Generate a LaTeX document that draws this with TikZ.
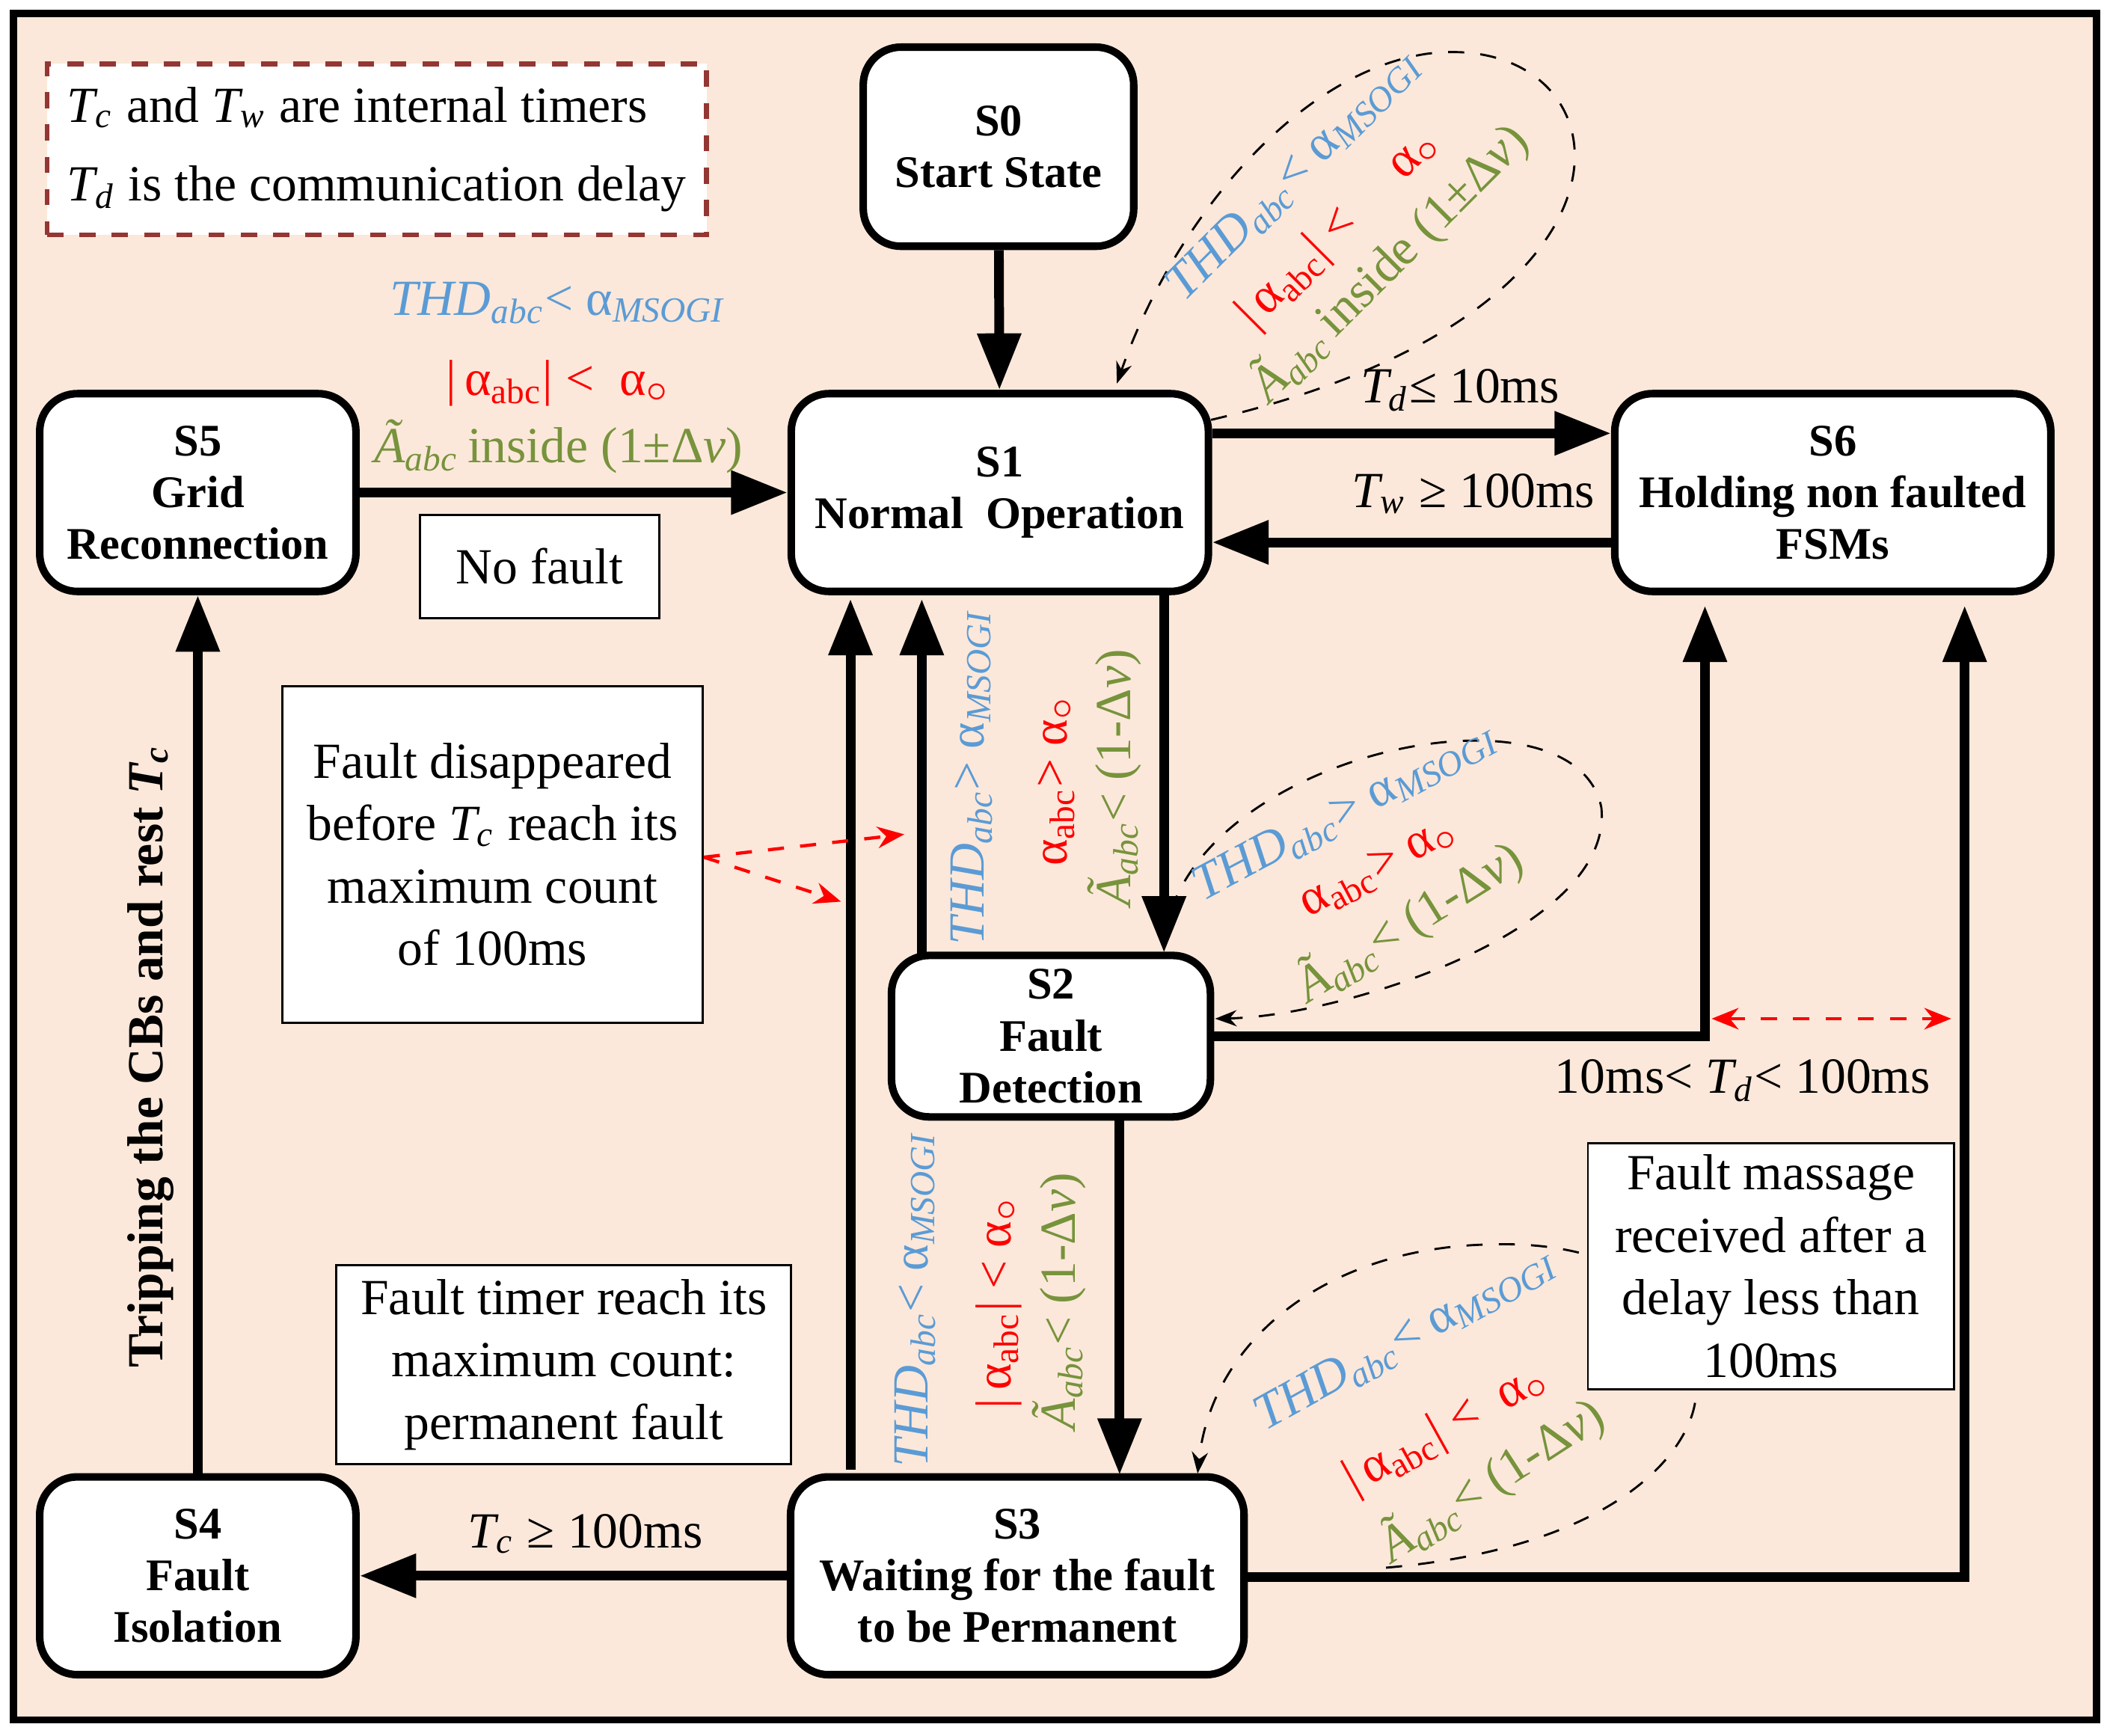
\documentclass[tikz,border=0pt]{standalone}
\usepackage{fontspec}
\setmainfont{Liberation Serif}
\usetikzlibrary{arrows.meta}
\definecolor{bg}{HTML}{FBE8DA}
\definecolor{cb}{HTML}{5B9BD5}
\definecolor{cg}{HTML}{77933C}
\definecolor{cr}{HTML}{FF0000}
\definecolor{lb}{HTML}{943634}
\newcommand{\ao}{α$_\circ$}
\newcommand{\ab}{α\textsubscript{abc}}
\newcommand{\thd}{\textit{THD}\textsubscript{\textit{abc}}}
\newcommand{\ams}{α\textsubscript{\textit{MSOGI}}}
\newcommand{\Aab}{\textit{Ã}\textsubscript{\textit{abc}}}
\begin{document}
\begin{tikzpicture}[x=0.25pt,y=-0.25pt,
 st/.style={draw,line width=1.4pt,rounded corners=7pt,fill=white,align=center,font=\fontsize{8.4}{9.6}\selectfont\bfseries,inner sep=0pt},
 bx/.style={draw,line width=0.4pt,fill=white,align=center,font=\fontsize{9.4}{11.6}\selectfont,inner sep=0pt},
 ar/.style={line width=1.8pt,-{Triangle[length=10.5pt,width=7.8pt]}},
 rd/.style={cr,dashed,line width=0.6pt,-{Stealth[length=5pt,width=4pt]}},
 lp/.style={dashed,line width=0.4pt,-{Stealth[length=4pt,width=3pt]}},
 t/.style={font=\fontsize{9.4}{11}\selectfont,inner sep=0pt}]
\useasboundingbox (0,0) rectangle (1568,1290);
\draw[line width=1.3pt,fill=bg] (10,10) rectangle (1558,1278);
% legend
\node[draw=lb,dashed,line width=0.9pt,fill=white,minimum width=490*0.25pt,minimum height=127*0.25pt,align=left,font=\fontsize{9.4}{14.5}\selectfont,inner sep=0pt] (leg) at (280,111) {\textit{T\textsubscript{c}} and \textit{T\textsubscript{w}} are internal timers\\\textit{T\textsubscript{d}} is the communication delay};
% loops behind
\draw[lp] (900,312) .. controls (1250,230) and (1210,20) .. (1060,40) .. controls (960,55) and (870,170) .. (830,285);
\draw[lp] (865,700) .. controls (880,560) and (1170,500) .. (1190,600) .. controls (1200,690) and (1000,755) .. (903,757);
\draw[lp] (1030,1165) .. controls (1200,1150) and (1255,1080) .. (1260,1040) .. controls (1265,960) and (1200,920) .. (1100,925) .. controls (980,930) and (900,1000) .. (890,1095);
% states
\node[st,minimum width=201*0.25pt,minimum height=148*0.25pt] (S0) at (742,109) {S0\\Start State};
\node[st,minimum width=310*0.25pt,minimum height=147*0.25pt] (S1) at (743,366) {S1\\Normal\ \ Operation};
\node[st,minimum width=235*0.25pt,minimum height=147*0.25pt] (S5) at (147,366) {S5\\Grid\\Reconnection};
\node[st,minimum width=324*0.25pt,minimum height=147*0.25pt] (S6) at (1362,366) {S6\\Holding non faulted\\FSMs};
\node[st,minimum width=237*0.25pt,minimum height=120*0.25pt] (S2) at (781,770) {S2\\Fault\\Detection};
\node[st,minimum width=337*0.25pt,minimum height=147*0.25pt] (S3) at (756,1171) {S3\\Waiting for the fault\\to be Permanent};
\node[st,minimum width=235*0.25pt,minimum height=147*0.25pt] (S4) at (147,1171) {S4\\Fault\\Isolation};
% boxes
\node[bx,minimum width=178*0.25pt,minimum height=77*0.25pt] (nf) at (401,421) {No fault};
\node[bx,minimum width=312*0.25pt,minimum height=250*0.25pt] (fd) at (366,635) {Fault disappeared\\before \textit{T\textsubscript{c}} reach its\\maximum count\\of 100ms};
\node[bx,minimum width=338*0.25pt,minimum height=148*0.25pt] (ft) at (419,1014) {Fault timer reach its\\maximum count:\\permanent fault};
\node[bx,minimum width=272*0.25pt,minimum height=183*0.25pt] (fm) at (1316,941) {Fault massage\\received after a\\delay less than\\100ms};
% arrows
\draw[ar] (S0) -- (S1);
\draw[ar] (S5.east) -- (S1.west);
\draw[ar] (S1.east|-0,322) -- (S6.west|-0,322);
\draw[ar] (S6.west|-0,403) -- (S1.east|-0,403);
\draw[ar] (865,440) -- (865,708);
\draw[ar] (685,710) -- (685,445);
\draw[ar] (632,1092) -- (632,445);
\draw[ar] (832,830) -- (832,1096);
\draw[ar] (S2.east|-0,770) -- (1267,770) -- (1267,450);
\draw[ar] (S3.east|-0,1172) -- (1460,1172) -- (1460,450);
\draw[ar] (S3.west) -- (S4.east);
\draw[ar] (S4.north) -- (S5.south);
% red dashed
\coordinate (fdr) at (523,637);
\draw[rd] (fdr) -- (672,620);
\draw[rd] (fdr) -- (625,670);
\coordinate (d1) at (1272,757); \coordinate (d2) at (1450,757);
\draw[rd,{Stealth[length=5pt,width=4pt]}-{Stealth[length=5pt,width=4pt]}] (d1) -- (d2);
% labels
\node[t] at (1085,290) {\textit{T\textsubscript{d}}≤ 10ms};
\node[t] at (1095,367) {\textit{T\textsubscript{w}} ≥ 100ms};
\node[t] at (435,1140) {\textit{T\textsubscript{c}} ≥ 100ms};
\node[t] at (1295,803) {10ms< \textit{T\textsubscript{d}}< 100ms};
\node[t,rotate=90,font=\fontsize{9.4}{11}\selectfont\bfseries] at (112,785) {Tripping the CBs and rest \textit{T\textsubscript{c}}};
% S5-S1 conditions
\node[t,cb] at (415,225) {\thd< \ams};
\node[t,cr] at (415,285) {|\,\ab| <\ \ \ao};
\node[t,cg] at (415,332) {\Aab\,inside (1±Δ\textit{v})};
% vertical S2-S1
\node[t,cb,rotate=90] at (722,577) {\thd> \ams};
\node[t,cr,rotate=90] at (785,580) {\ab> \ao};
\node[t,cg,rotate=90] at (828,578) {\Aab< (1-Δ\textit{v})};
% vertical S3-S1
\node[t,cb,rotate=90] at (680,965) {\thd< \ams};
\node[t,cr,rotate=90] at (742,968) {|\,\ab| <\ \ao};
\node[t,cg,rotate=90] at (787,967) {\Aab< (1-Δ\textit{v})};
% S1 loop
\node[t,cb,rotate=45] at (962,130) {\thd< \ams};
\node[t,cr,rotate=45] at (995,170) {|\,\ab| <\ \ \ \ \ \ao};
\node[t,cg,rotate=45] at (1032,195) {\Aab\,inside (1±Δ\textit{v})};
% S2 loop
\node[t,cb,rotate=28] at (1000,603) {\thd> \ams};
\node[t,cr,rotate=28] at (1025,645) {\ab> \ao};
\node[t,cg,rotate=32] at (1047,685) {\Aab< (1-Δ\textit{v})};
% S3 loop
\node[t,cb,rotate=29] at (1045,995) {\thd< \ams};
\node[t,cr,rotate=29] at (1075,1062) {|\,\ab| <\ \ \ao};
\node[t,cg,rotate=33] at (1108,1100) {\Aab< (1-Δ\textit{v})};
\end{tikzpicture}
\end{document}
